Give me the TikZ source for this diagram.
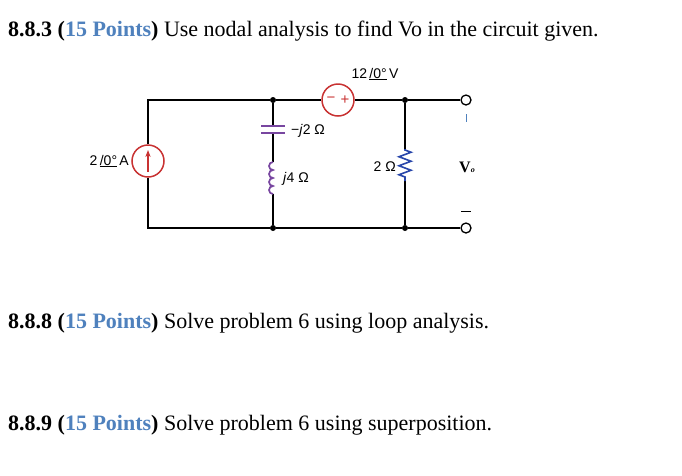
\documentclass[tikz,border=0pt]{standalone}
\usepackage{fontspec}
\setmainfont{Liberation Serif}
\newfontfamily\lab{Liberation Sans}
\usetikzlibrary{decorations.pathmorphing,arrows.meta}
\definecolor{ptblue}{RGB}{79,129,189}
\definecolor{srcred}{RGB}{200,50,50}
\definecolor{lpurp}{RGB}{120,70,160}
\definecolor{rblue}{RGB}{40,70,170}
\newcommand\phz[1]{\underline{/#1}}
\begin{document}
\begin{tikzpicture}[x=1pt,y=-1pt,
  wire/.style={line width=1.8pt,black},
  src/.style={circle,draw=srcred,line width=1.5pt,minimum size=32pt,inner sep=0pt},
  lbl/.style={font=\lab\fontsize{14}{16}\selectfont,inner sep=1pt},
  hdr/.style={anchor=base west,font=\fontsize{22}{25}\selectfont,inner sep=0pt},
  term/.style={circle,draw,line width=1.3pt,minimum size=10pt,inner sep=0pt,fill=white},
  dot/.style={circle,fill,minimum size=6pt,inner sep=0pt}]
\useasboundingbox (0,0) rectangle (682,475);
\node[hdr] (h1) at (8,36) {\textbf{8.8.3 (\textcolor{ptblue}{15 Points})} Use nodal analysis to find Vo in the circuit given.};
\node[hdr] (h2) at (8,328) {\textbf{8.8.8 (\textcolor{ptblue}{15 Points})} Solve problem 6 using loop analysis.};
\node[hdr] (h3) at (8,430) {\textbf{8.8.9 (\textcolor{ptblue}{15 Points})} Solve problem 6 using superposition.};
% nodes
\coordinate (tl) at (148,100); \coordinate (bl) at (148,228);
\node[dot] (tm) at (273,100) {}; \node[dot] (bm) at (273,228) {};
\node[dot] (tr) at (405,100) {}; \node[dot] (br) at (405,228) {};
\node[term] (t1) at (466,100) {}; \node[term] (t2) at (466,228) {};
\node[src] (is) at (148,161) {};
\node[src] (vs) at (338,100) {};
\coordinate (c1) at (273,126); \coordinate (c2) at (273,133);
\coordinate (l1) at (273,162); \coordinate (l2) at (273,194);
\coordinate (r1) at (405,149); \coordinate (r2) at (405,181);
% wires
\draw[wire] (is.north) -- (tl) -- (tm) -- (vs.west);
\draw[wire] (vs.east) -- (tr) -- (t1.west);
\draw[wire] (is.south) -- (bl) -- (bm) -- (br) -- (t2.west);
\draw[wire] (tm) -- (c1); \draw[wire] (c2) -- (l1); \draw[wire] (l2) -- (bm);
\draw[wire] (tr) -- (r1); \draw[wire] (r2) -- (br);
% capacitor
\draw[lpurp,line width=1.8pt] ([xshift=-12pt]c1) -- ([xshift=12pt]c1);
\draw[lpurp,line width=1.8pt] ([xshift=-12pt]c2) -- ([xshift=12pt]c2);
% inductor: four bumps bulging left
\draw[lpurp,line width=1.7pt] (l1) arc[start angle=90,end angle=270,radius=4pt]
  arc[start angle=90,end angle=270,radius=4pt]
  arc[start angle=90,end angle=270,radius=4pt]
  arc[start angle=90,end angle=270,radius=4pt];
% resistor
\draw[rblue,line width=1.6pt,decorate,decoration={zigzag,amplitude=6pt,segment length=9pt,pre length=1pt,post length=1pt}] (r1) -- (r2);
% source symbols
\draw[srcred,line width=1.5pt,-{Stealth[length=7pt]}] ([yshift=-11pt]is.center) -- ([yshift=11pt]is.center);
\node[srcred,font=\lab\fontsize{15}{16}\selectfont] at ([xshift=-7pt]vs.center) {−};
\node[srcred,font=\lab\fontsize{15}{16}\selectfont] at ([xshift=7pt]vs.center) {+};
% labels
\node[lbl,anchor=east] (la) at (130,161) {2\,\phz{0°}\,A};
\node[lbl] (lv) at (375,74) {12\,\phz{0°}\,V};
\node[lbl,anchor=west] (lc) at (290,131) {−\textit{j}2 Ω};
\node[lbl,anchor=west] (li) at (282,179) {\textit{j}4 Ω};
\node[lbl,anchor=east] (lr) at (397,167) {2 Ω};
\node[font=\fontsize{16}{18}\selectfont\bfseries] (vo) at (467,167) {V\textit{\footnotesize o}};
\draw[ptblue,line width=0.8pt] (466,114) -- (466,122);
\draw[black,line width=0.8pt] (461,211) -- (471,211);
\end{tikzpicture}
\end{document}
